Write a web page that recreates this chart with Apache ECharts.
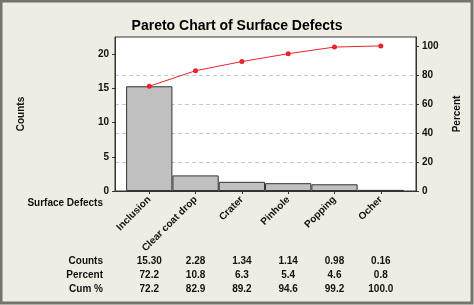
<!DOCTYPE html>
<html>
<head>
<meta charset="utf-8">
<script src="https://cdn.jsdelivr.net/npm/echarts@6/dist/echarts.min.js"></script>
<style>
  html, body { margin: 0; padding: 0; background: #efece3; }
  #main { width: 474px; height: 305px; }
</style>
</head>
<body>
<div id="main"></div>
<script>
var categories = ['Inclusion', 'Clear coat drop', 'Crater', 'Pinhole', 'Popping', 'Ocher'];
var counts = [15.30, 2.28, 1.34, 1.14, 0.98, 0.16];
var percent = [72.2, 10.8, 6.3, 5.4, 4.6, 0.8];
var cumPercent = [72.2, 82.9, 89.2, 94.6, 99.2, 100.0];
var countTicks = [0, 5, 10, 15, 20];
var percentTicks = [0, 20, 40, 60, 80, 100];
var rowNames = ['Counts', 'Percent', 'Cum %'];

var positions = categories.map(function (c, i) { return i; });
var totalCount = 21.2;
var countMax = 22.5;
var percentMax = countMax / totalCount * 100;

var labelFont = { fontFamily: 'Liberation Sans, Arial, sans-serif', fontWeight: 'bold', fontSize: 10, color: '#111' };

// one hidden x axis per table row, values written as its labels
function tableAxis(name, values, digits, offset) {
    return {
        type: 'value', gridIndex: 0, position: 'bottom', offset: offset,
        min: -0.74, max: 5.76,
        name: name, nameLocation: 'start', nameGap: 12,
        nameTextStyle: Object.assign({ verticalAlign: 'middle' }, labelFont),
        axisLine: { show: false, onZero: false }, axisTick: { show: false }, splitLine: { show: false },
        axisLabel: Object.assign({
            customValues: positions, margin: 0, verticalAlign: 'middle',
            formatter: function (v) { return values ? values[Math.round(v)].toFixed(digits) : ''; }
        }, labelFont)
    };
}

var chart = echarts.init(document.getElementById('main'));

chart.setOption({
    backgroundColor: '#efece3',
    animation: false,
    title: {
        text: 'Pareto Chart of Surface Defects',
        left: 'center', top: 14,
        textStyle: { fontFamily: 'Liberation Sans, Arial, sans-serif', fontWeight: 'bold', fontSize: 14, color: '#000' }
    },
    graphic: [{
        type: 'rect',
        shape: { x: 1, y: 1, width: 471, height: 302 },
        style: { fill: 'none', stroke: '#77736b', lineWidth: 3 },
        z: 100
    }],
    grid: {
        left: 115, right: 58, top: 37, bottom: 114,
        show: true, backgroundColor: '#fff', borderColor: '#333', borderWidth: 1
    },
    xAxis: [
        {
            type: 'value', min: -0.74, max: 5.76,
            axisLine: { onZero: false, lineStyle: { color: '#333' } },
            axisTick: { customValues: positions, length: 3, lineStyle: { color: '#333' } },
            splitLine: { show: false },
            axisLabel: Object.assign({
                customValues: positions, rotate: 45, margin: 7,
                formatter: function (v) { return categories[Math.round(v)]; }
            }, labelFont)
        },
        tableAxis('Surface Defects', null, 0, 12),
        tableAxis(rowNames[0], counts, 2, 70),
        tableAxis(rowNames[1], percent, 1, 84),
        tableAxis(rowNames[2], cumPercent, 1, 98)
    ],
    yAxis: [
        {
            type: 'value', min: 0, max: countMax, position: 'left',
            name: 'Counts', nameLocation: 'middle', nameGap: 89, nameRotate: 90,
            nameTextStyle: labelFont,
            axisLine: { show: true, onZero: false, lineStyle: { color: '#333' } },
            axisTick: { show: true, customValues: countTicks, length: 3, lineStyle: { color: '#333' } },
            axisLabel: Object.assign({ customValues: countTicks, margin: 6 }, labelFont),
            splitLine: { show: false }
        },
        {
            type: 'value', min: 0, max: percentMax, interval: 20, position: 'right',
            name: 'Percent', nameLocation: 'middle', nameGap: 36, nameRotate: 90,
            nameTextStyle: labelFont,
            axisLine: { show: true, onZero: false, lineStyle: { color: '#333' } },
            axisTick: { show: true, customValues: percentTicks, length: 3, lineStyle: { color: '#333' } },
            axisLabel: Object.assign({ customValues: percentTicks, margin: 6 }, labelFont),
            splitLine: { show: true, showMinLine: false, showMaxLine: false, lineStyle: { type: [4, 3], color: '#c8c8c8' } }
        }
    ],
    series: [
        {
            type: 'bar', xAxisIndex: 0, yAxisIndex: 0,
            barWidth: '100%', barCategoryGap: 0,
            data: counts.map(function (v, i) { return [positions[i], v]; }),
            itemStyle: { color: '#c0c0c0', borderColor: '#333', borderWidth: 1 }
        },
        {
            type: 'line', xAxisIndex: 0, yAxisIndex: 1,
            data: cumPercent.map(function (v, i) { return [positions[i], v]; }),
            symbol: 'circle', symbolSize: 5,
            lineStyle: { color: '#e8242c', width: 1 },
            itemStyle: { color: '#e8242c' }
        }
    ]
});
</script>
</body>
</html>
